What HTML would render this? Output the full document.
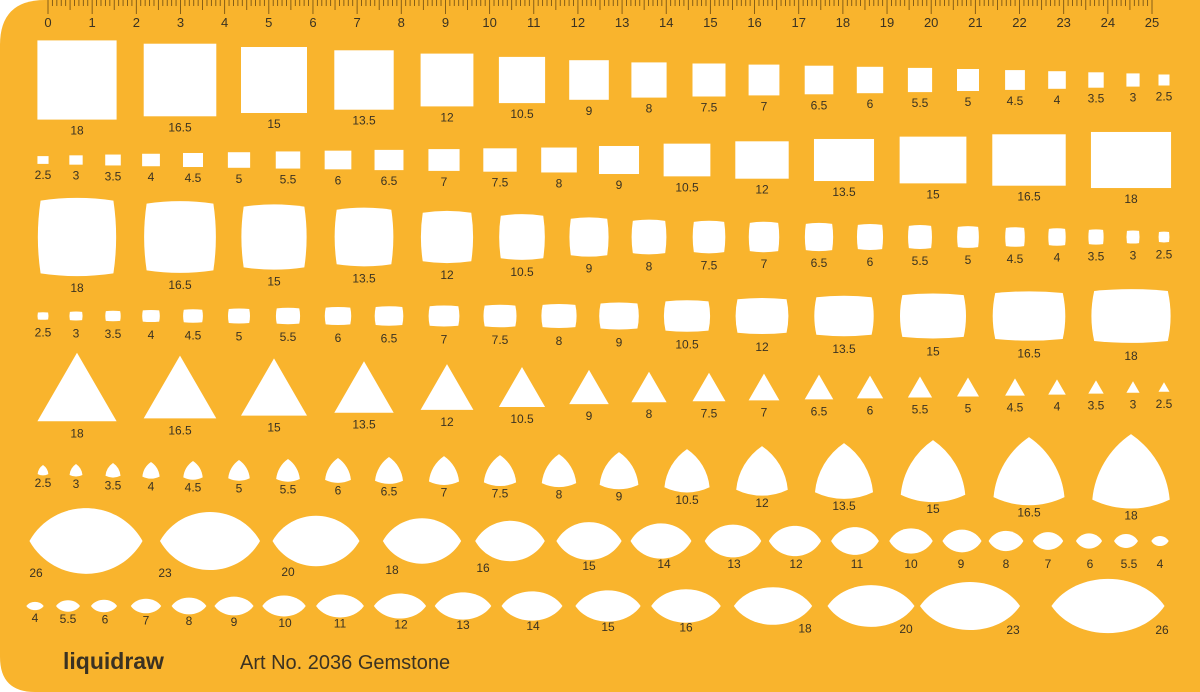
<!DOCTYPE html>
<html><head><meta charset="utf-8"><style>
html,body{margin:0;padding:0;background:#fff;}
svg{display:block;}
text{font-family:"Liberation Sans",sans-serif;}
</style></head><body>
<svg id="s" width="1200" height="692" xmlns="http://www.w3.org/2000/svg">
<path d="M45,0 H1200 V692 H35 Q0,692 0,657 V45 Q0,0 45,0 Z" fill="#F9B42D"/>
<g id="g"></g>
<text x="63" y="669" font-size="23" font-weight="bold" fill="#3b3222">liquidraw</text>
<text x="240" y="669" font-size="20" fill="#3b3222">Art No. 2036 Gemstone</text>
</svg>
<script>
const g=document.getElementById('g');let h='';
const W='#fff',T='#3a3222';
function lab(x,y,t,fs){h+=`<text x="${x}" y="${y}" font-size="${fs||12}" fill="${T}" text-anchor="middle">${t}</text>`;}
for(let i=0;i<=250;i++){const x=48+i*4.416;let L=i%10==0?14:(i%5==0?10:6);h+=`<line x1="${x}" y1="0" x2="${x}" y2="${L}" stroke="#7a5514" stroke-width="0.9"/>`;if(i%10==0){lab(x,27,i/10,13);}}
const desc=[18,16.5,15,13.5,12,10.5,9,8,7.5,7,6.5,6,5.5,5,4.5,4,3.5,3,2.5];
const xd=[77,180,274,364,447,522,589,649,709,764,819,870,920,968,1015,1057,1096,1133,1164];
const asc=desc.slice().reverse();
const xa=[43,76,113,151,193,239,288,338,389,444,500,559,619,687,762,844,933,1029,1131];
desc.forEach((m,i)=>{const s=m*4.4,cx=xd[i],cy=80;h+=`<rect x="${cx-s/2}" y="${cy-s/2}" width="${s}" height="${s}" fill="${W}"/>`;lab(cx,cy+s/2+15,m);});
asc.forEach((m,i)=>{const w=m*4.45,hh=w*0.7,cx=xa[i],cy=160;h+=`<rect x="${cx-w/2}" y="${cy-hh/2}" width="${w}" height="${hh}" fill="${W}"/>`;lab(cx,cy+hh/2+15,m);});
function cush(cx,cy,w,hh){const a=w*0.465,bx=w*0.07,c=hh*0.465,by=hh*0.07;
return `<path d="M${cx-a},${cy-c} Q${cx},${cy-c-by} ${cx+a},${cy-c} Q${cx+a+bx},${cy} ${cx+a},${cy+c} Q${cx},${cy+c+by} ${cx-a},${cy+c} Q${cx-a-bx},${cy} ${cx-a},${cy-c}Z" fill="${W}"/>`;}
desc.forEach((m,i)=>{const s=m*4.35,cx=xd[i],cy=237;h+=cush(cx,cy,s,s);lab(cx,cy+s/2+16,m);});
asc.forEach((m,i)=>{const w=m*4.4,hh=w*0.68,cx=xa[i],cy=316;h+=cush(cx,cy,w,hh);lab(cx,cy+hh/2+17,m);});
desc.forEach((m,i)=>{const s=m*4.4,t=s*0.866,cx=xd[i],cy=387;h+=`<path d="M${cx},${cy-t/2} L${cx+s/2},${cy+t/2} L${cx-s/2},${cy+t/2}Z" fill="${W}"/>`;lab(cx,cy+t/2+16,m);});
asc.forEach((m,i)=>{const s=m*4.3,t=s*0.866,cx=xa[i],cy=470,r=s*1.15;const y0=cy-t/2-s*0.03,y1=cy+t/2-s*0.05;
h+=`<path d="M${cx},${y0} A${r},${r} 0 0 1 ${cx+s/2},${y1} A${r},${r} 0 0 1 ${cx-s/2},${y1} A${r},${r} 0 0 1 ${cx},${y0}Z" fill="${W}"/>`;lab(cx,cy+t/2+12+s*0.05,m);});
function lens(cx,cy,w,hh){const c=hh*0.667,l=cx-w/2,r=cx+w/2,d=w*0.22;
return `<path d="M${l},${cy} C${l+d},${cy-c} ${r-d},${cy-c} ${r},${cy} C${r-d},${cy+c} ${l+d},${cy+c} ${l},${cy}Z" fill="${W}"/>`;}
const l7=[26,23,20,18,16,15,14,13,12,11,10,9,8,7,6,5.5,4];
const x7=[86,210,316,422,510,589,661,733,795,855,911,962,1006,1048,1089,1126,1160];
const lx7=[36,165,288,392,483,589,664,734,796,857,911,961,1006,1048,1090,1129,1160];
l7.forEach((m,i)=>{const w=m*4.35,hh=w*0.58;h+=lens(x7[i],541,w,hh);lab(lx7[i],i<2?577:(i<6?580-i*2:568),m);});
const l8=l7.slice().reverse();
const x8=[35,68,104,146,189,234,284,340,400,463,532,608,686,773,871,970,1108];
const lx8=[35,68,105,146,189,234,285,340,401,463,533,608,686,805,906,1013,1162];
l8.forEach((m,i)=>{const w=m*4.35,hh=w*0.48;h+=lens(x8[i],606,w,hh);lab(lx8[i],622+Math.min(12,i*0.8),m);});
g.innerHTML=h;
</script>
</body></html>
